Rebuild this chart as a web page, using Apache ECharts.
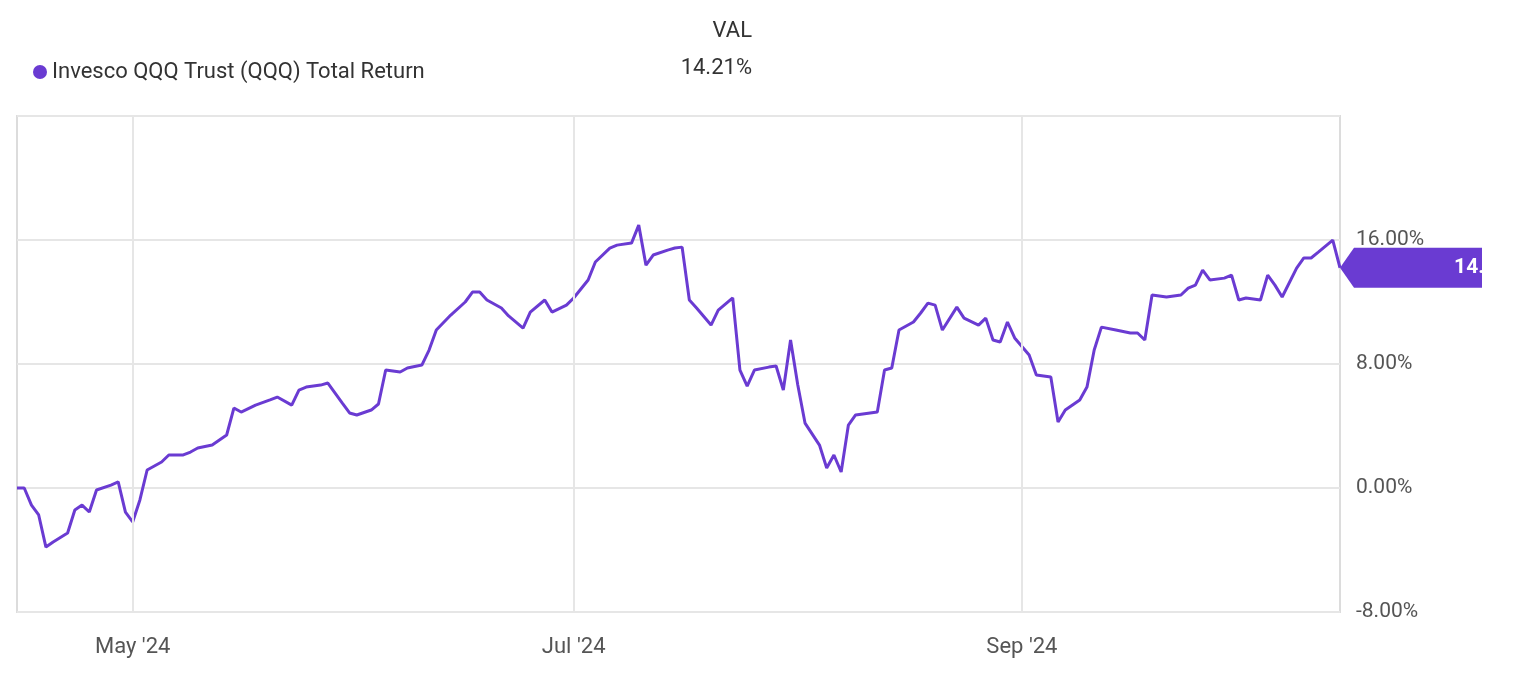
<!DOCTYPE html>
<html>
<head>
<meta charset="utf-8">
<script src="https://cdn.jsdelivr.net/npm/echarts@6/dist/echarts.min.js"></script>
<style>html,body{margin:0;padding:0;background:#fff}#main{width:1533px;height:675px}</style>
</head>
<body>
<div id="main"></div>
<script>
// days after 15 Apr 2024, and total return in %
var dayOffsets = [0,1,2,3,4,5,7,8,9,10,11,13,14,15,16,17,18,20,21,23,24,25,27,29,30,31,33,35,36,38,39,40,42,43,45,46,47,49,50,51,53,54,56,57,58,60,62,63,64,65,67,68,70,71,73,74,76,77,79,80,82,83,85,86,87,88,90,91,92,93,94,96,97,99,100,101,102,104,105,106,107,108,109,111,112,113,114,115,116,119,120,121,122,124,125,126,127,128,130,131,133,134,135,136,137,138,140,141,143,144,145,147,148,149,150,152,154,155,156,157,159,161,162,163,164,165,167,168,169,170,172,173,174,175,177,178,179,180,182,183];
var returns = [0,0,-1.10,-1.74,-3.81,-3.48,-2.90,-1.42,-1.10,-1.55,-0.13,0.19,0.39,-1.55,-2.19,-0.77,1.16,1.68,2.13,2.13,2.32,2.58,2.77,3.42,5.16,4.90,5.35,5.68,5.87,5.35,6.32,6.51,6.64,6.77,5.48,4.84,4.71,5.03,5.42,7.61,7.48,7.74,7.93,8.90,10.19,11.16,12.00,12.64,12.64,12.13,11.61,11.10,10.32,11.35,12.13,11.35,11.80,12.26,13.42,14.58,15.48,15.67,15.80,16.96,14.38,15.03,15.35,15.48,15.54,12.13,11.61,10.51,11.48,12.26,7.61,6.58,7.61,7.80,7.87,6.32,9.55,6.64,4.19,2.77,1.29,2.13,1.03,4.06,4.71,4.90,7.61,7.74,10.19,10.71,11.29,11.93,11.80,10.19,11.67,10.96,10.51,10.96,9.55,9.42,10.71,9.68,8.58,7.29,7.16,4.26,5.03,5.68,6.51,8.90,10.38,10.19,10.00,10.00,9.55,12.45,12.32,12.45,12.90,13.09,14.06,13.42,13.54,13.73,12.13,12.26,12.13,13.73,13.09,12.32,14.19,14.84,14.84,15.22,15.99,14.21];
var monthLabels = ['2024-05-01', '2024-07-01', '2024-09-01'];
var yTicks = [-8, 0, 8, 16];

var DAY = 86400000;
var start = Date.UTC(2024, 3, 15);
var data = [];
for (var i = 0; i < dayOffsets.length; i++) {
    data.push([start + dayOffsets[i] * DAY, returns[i]]);
}
var labelTimes = monthLabels.map(function (s) { return Date.parse(s + 'T00:00:00Z'); });
var monthNames = ['Jan','Feb','Mar','Apr','May','Jun','Jul','Aug','Sep','Oct','Nov','Dec'];
var purple = '#6a3bd2';
var last = returns[returns.length - 1];

var myChart = echarts.init(document.getElementById('main'));
var option = {
    animation: false,
    useUTC: true,
    textStyle: { fontFamily: 'Roboto' },
    legend: {
        left: 28, top: 56,
        icon: 'circle', itemWidth: 14, itemHeight: 14, itemGap: 10,
        textStyle: { fontSize: 22, color: '#333', fontFamily: 'Roboto' },
        data: ['Invesco QQQ Trust (QQQ) Total Return']
    },
    graphic: [
        { type: 'text', right: 1533 - 752, top: 20, style: { text: 'VAL', fontSize: 22, fill: '#333', fontFamily: 'Roboto' } },
        { type: 'text', right: 1533 - 752, top: 57, style: { text: last.toFixed(2) + '%', fontSize: 22, fill: '#333', fontFamily: 'Roboto' } }
    ],
    grid: {
        left: 17, right: 193, top: 116, bottom: 63,
        show: true, borderColor: '#dcdcdc', borderWidth: 2
    },
    xAxis: {
        type: 'time',
        min: start, max: start + 183 * DAY,
        axisLine: { show: false },
        axisTick: { show: false },
        splitLine: { show: false },
        axisLabel: {
            fontSize: 22, color: '#555', margin: 24, hideOverlap: false,
            formatter: function (v) {
                if (labelTimes.indexOf(v) < 0) return '';
                var d = new Date(v);
                return monthNames[d.getUTCMonth()] + " '" + String(d.getUTCFullYear()).slice(2);
            }
        }
    },
    yAxis: {
        type: 'value', position: 'right',
        min: -8, max: 24, interval: 8,
        axisLine: { show: false },
        axisTick: { show: false },
        axisLabel: {
            fontSize: 21, color: '#555', margin: 16,
            formatter: function (v) { return yTicks.indexOf(v) < 0 ? '' : v.toFixed(2) + '%'; }
        },
        splitLine: { lineStyle: { color: '#e6e6e6', width: 2 } }
    },
    series: [{
        name: 'Invesco QQQ Trust (QQQ) Total Return',
        type: 'line',
        data: data,
        showSymbol: false,
        color: purple,
        lineStyle: { color: purple, width: 3 },
        markLine: {
            silent: true, symbol: 'none',
            label: { show: false },
            lineStyle: { color: '#e6e6e6', width: 2, type: 'solid' },
            data: labelTimes.map(function (t) { return { xAxis: t }; })
        },
        markPoint: {
            silent: true,
            data: [{ coord: data[data.length - 1] }],
            symbol: 'path://M0,20 L14,0 L142,0 L142,40 L14,40 Z',
            symbolSize: [142, 40],
            symbolOffset: [71, 0],
            itemStyle: { color: purple },
            label: {
                show: true, offset: [78, 0],
                color: '#fff', fontSize: 21, fontWeight: 'bold',
                formatter: last.toFixed(2) + '%'
            }
        }
    }]
};
myChart.setOption(option);
</script>
</body>
</html>
